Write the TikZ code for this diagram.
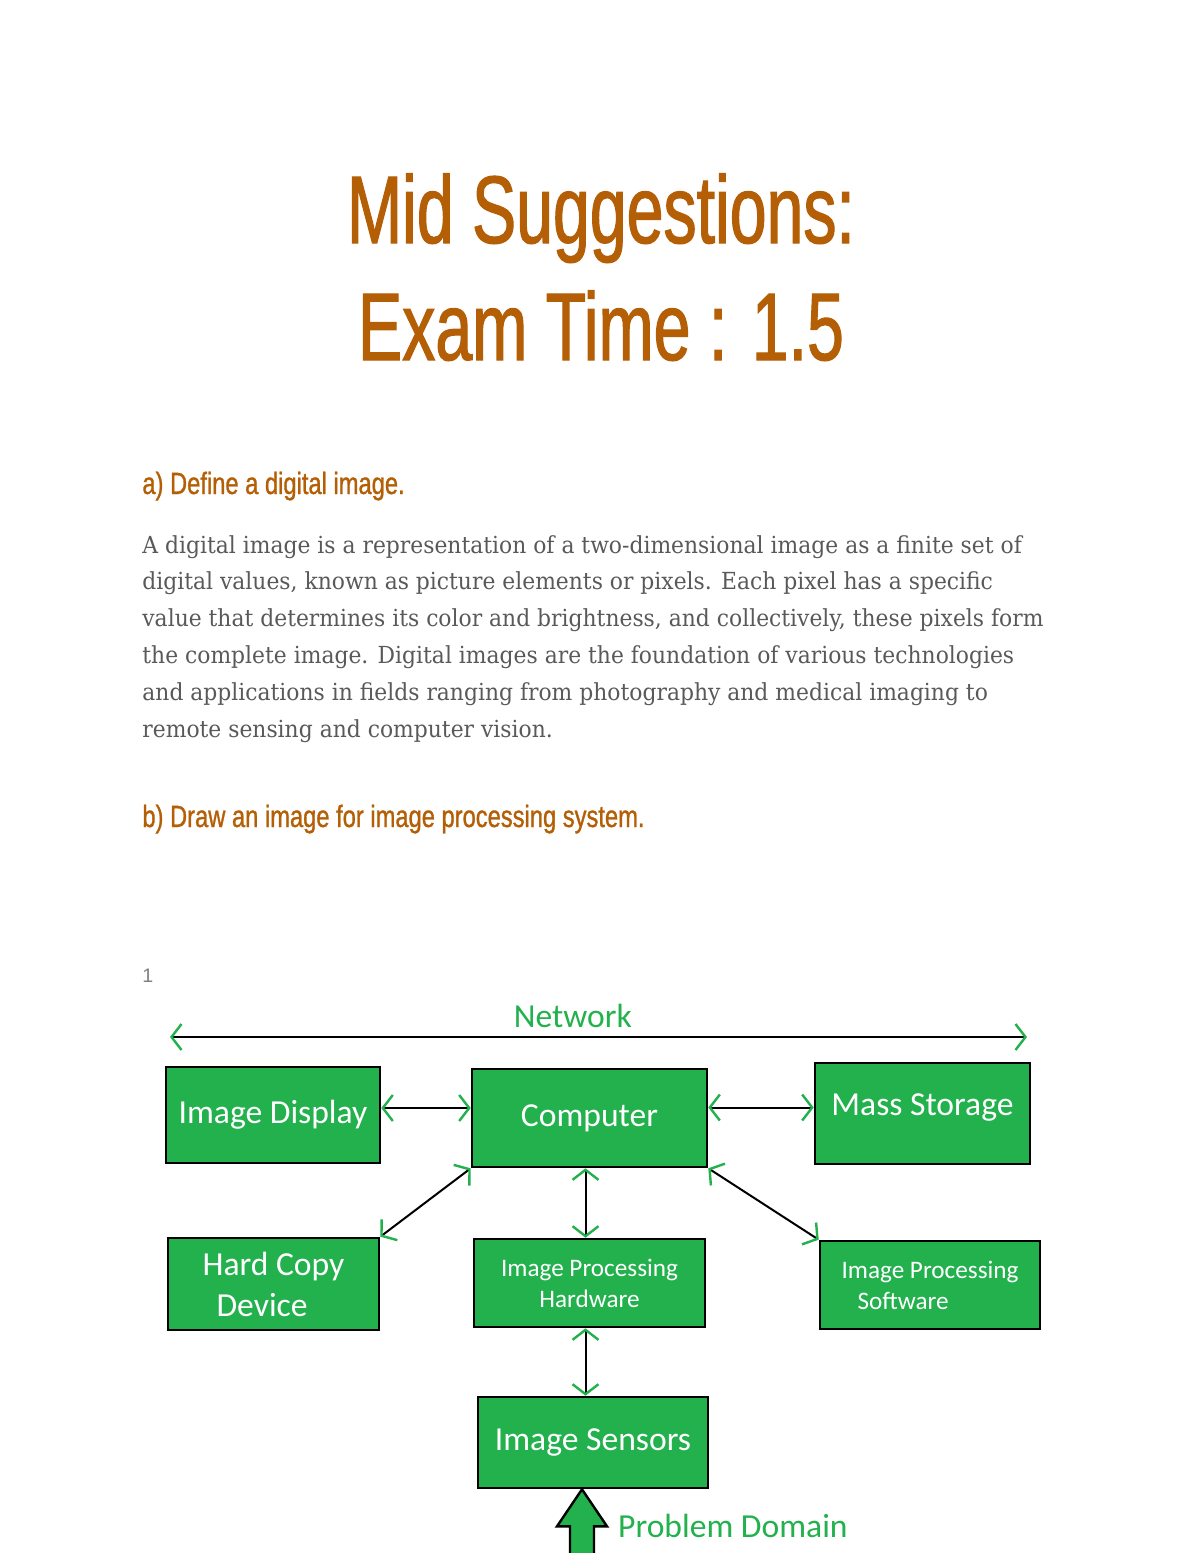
\documentclass[tikz,border=0pt]{standalone}
\usepackage{fontspec}
\usetikzlibrary{arrows.meta,positioning}
\setmainfont{DejaVu Serif}
\newfontfamily\titlefont[FakeStretch=0.69,FakeBold=1.2]{Liberation Sans}
\newfontfamily\headfont[FakeStretch=0.77,FakeBold=1]{Liberation Sans}
\newfontfamily\bodyfont[FakeStretch=0.93]{DejaVu Serif}
\newfontfamily\boxfont{Carlito}
\newfontfamily\numfont{Liberation Sans}
\definecolor{rust}{HTML}{B45F06}
\definecolor{bodygray}{HTML}{595959}
\definecolor{pgreen}{HTML}{22B14C}

\tikzstyle{block} = [rectangle, draw=black, line width=1.3pt, fill=pgreen, text=white, font=\boxfont\fontsize{16.8}{20}\selectfont, inner sep=0pt]
\tikzstyle{arrow} = [line width=1pt, >={Straight Barb[color=pgreen,length=5pt,width=13pt,line width=1.2pt]}, <->]
\tikzstyle{glabel} = [text=pgreen, font=\boxfont\fontsize{16.8}{20}\selectfont, inner sep=0pt]

\begin{document}
\begin{tikzpicture}[x=0.5pt, y=-0.5pt]
        \useasboundingbox (0,0) rectangle (1200,1553);

        % page text
        \node (title) [anchor=base, text=rust, font=\titlefont\fontsize{48}{50}\selectfont, inner sep=0pt] at (601,243) {Mid Suggestions:};
        \node (time) [anchor=base, text=rust, font=\titlefont\fontsize{48}{50}\selectfont, inner sep=0pt] at (601,360) {Exam Time : 1.5};
        \node (qa) [anchor=base west, text=rust, font=\headfont\fontsize{15.4}{18}\selectfont, inner sep=0pt] at (142,494) {a) Define a digital image.};
        \node (ans) [anchor=base west, align=left, text=bodygray, font=\bodyfont\fontsize{11.75}{18.4}\selectfont, inner sep=0pt] at (142,737)
            {A digital image is a representation of a two-dimensional image as a finite set of\\
             digital values, known as picture elements or pixels. Each pixel has a specific\\
             value that determines its color and brightness, and collectively, these pixels form\\
             the complete image. Digital images are the foundation of various technologies\\
             and applications in fields ranging from photography and medical imaging to\\
             remote sensing and computer vision.};
        \node (qb) [anchor=base west, text=rust, font=\headfont\fontsize{15.4}{18}\selectfont, inner sep=0pt] at (142,827) {b) Draw an image for image processing system.};
        \node (num) [anchor=base west, text=gray, font=\numfont\fontsize{9.8}{12}\selectfont, inner sep=0pt] at (142,982) {1};

        % diagram
        \node (disp) [block, minimum width=107pt, minimum height=48pt] at (273,1115) {Image Display};
        \node (comp) [block, minimum width=117.5pt, minimum height=49pt] at (589.5,1118) {Computer};
        \node (mass) [block, minimum width=107.5pt, minimum height=50.5pt, text depth=9pt] at (922.5,1113.5) {Mass Storage};
        \node (hard) [block, minimum width=105.5pt, minimum height=46pt, align=left, font=\boxfont\fontsize{16.8}{20.5}\selectfont] at (273.5,1284) {Hard Copy\\\hspace{7pt}Device};
        \node (iph) [block, minimum width=115.5pt, minimum height=44pt, align=center, font=\boxfont\fontsize{12.6}{15.5}\selectfont] at (589.5,1283) {Image Processing\\Hardware};
        \node (ips) [block, minimum width=110pt, minimum height=44pt, align=left, font=\boxfont\fontsize{12.6}{15.5}\selectfont] at (930,1285) {Image Processing\\\hspace{8pt}Software};
        \node (sens) [block, minimum width=115pt, minimum height=45.5pt] at (593,1442.5) {Image Sensors};

        \coordinate (netl) at (170,1037);
        \coordinate (netr) at (1027,1037);
        \draw [arrow] (netl) -- (netr) node[pos=0.47, above=4pt, glabel] {Network};

        \draw [arrow] ([yshift=3.5pt]disp.east) -- ([yshift=3.5pt]disp.east -| comp.west);
        \draw [arrow] ([yshift=3pt]mass.west -| comp.east) -- ([yshift=3pt]mass.west);
        \draw [arrow] (comp.south west) -- (hard.north east);
        \draw [arrow] ([xshift=-2pt]comp.south) -- ([xshift=-2pt]comp.south |- iph.north);
        \draw [arrow] (comp.south east) -- (ips.north west);
        \draw [arrow] ([xshift=-2pt]iph.south) -- ([xshift=-2pt]iph.south |- sens.north);

        \draw [fill=pgreen, draw=black, line width=1.2pt] ([xshift=-5.5pt]sens.south) -- ++(25,37) node[anchor=west, xshift=5pt, glabel] {Problem Domain}
            -- ++(-13,0) -- ++(0,40) -- ++(-24,0) -- ++(0,-40) -- ++(-13,0) -- cycle;

\end{tikzpicture}
\end{document}
